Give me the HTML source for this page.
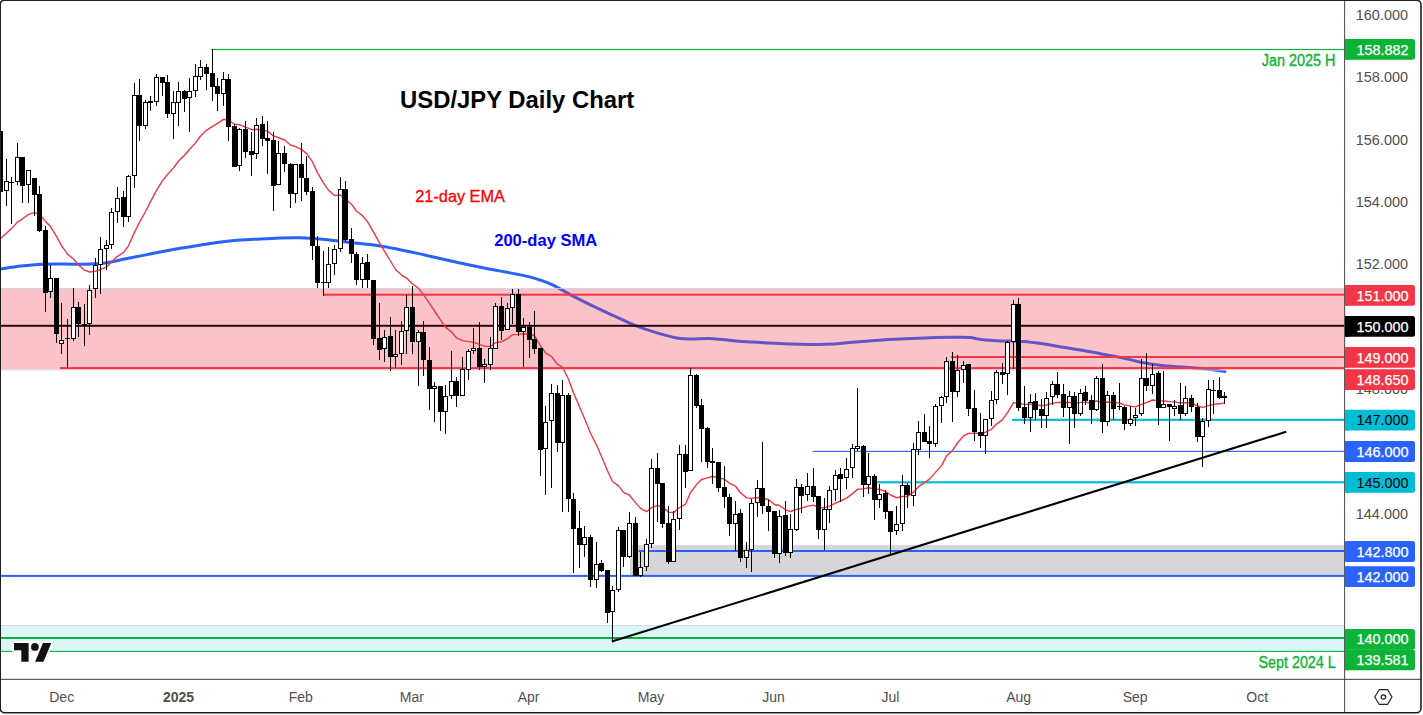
<!DOCTYPE html>
<html><head><meta charset="utf-8"><title>USD/JPY Daily Chart</title>
<style>
html,body{margin:0;padding:0;background:#fff;}
body{width:1423px;height:715px;overflow:hidden;position:relative;font-family:"Liberation Sans",sans-serif;}
svg{position:absolute;left:0;top:0;display:block;}
text{font-family:"Liberation Sans",sans-serif;}
.ax{font-size:14px;fill:#4f4f4f;}
.lb{font-size:14.3px;}
</style></head><body>
<svg width="1423" height="715" viewBox="0 0 1423 715">
<rect x="0" y="0" width="1423" height="715" fill="#fff"/>
<defs><clipPath id="plot"><rect x="1" y="1" width="1343.5" height="678"/></clipPath><mask id="cm" maskUnits="userSpaceOnUse" x="0" y="0" width="1423" height="715"><rect x="0" y="0" width="1423" height="715" fill="#fff"/><use href="#candles"/></mask></defs>
<g clip-path="url(#plot)">
<path d="M0.0,269.0C3.5,268.5 14.0,266.8 21.0,266.0C28.0,265.2 35.0,264.5 42.0,264.2C49.0,263.9 56.0,264.0 63.0,264.0C70.0,264.0 77.0,264.5 84.0,264.3C91.0,264.1 98.0,263.9 105.0,263.0C112.0,262.1 119.0,260.2 126.0,258.8C133.0,257.4 140.0,256.0 147.0,254.6C154.0,253.2 159.2,252.0 168.0,250.4C176.8,248.8 189.7,246.8 200.0,245.2C210.3,243.6 220.0,242.0 230.0,241.0C240.0,240.0 251.7,239.5 260.0,239.0C268.3,238.5 273.3,238.2 280.0,238.0C286.7,237.8 293.3,237.6 300.0,237.8C306.7,238.0 313.3,238.4 320.0,239.0C326.7,239.6 333.3,240.6 340.0,241.3C346.7,242.1 353.3,242.7 360.0,243.5C366.7,244.3 373.3,245.0 380.0,246.0C386.7,247.0 393.3,248.4 400.0,249.7C406.7,251.0 413.3,252.4 420.0,253.9C426.7,255.4 433.3,257.0 440.0,258.5C446.7,260.0 452.2,261.3 460.0,263.0C467.8,264.7 476.0,266.4 486.5,268.5C497.0,270.6 512.6,273.0 523.0,275.4C533.4,277.8 540.8,279.9 548.7,283.1C556.6,286.3 562.7,290.7 570.6,294.8C578.5,298.9 588.9,304.1 596.2,307.6C603.5,311.1 607.7,312.9 614.4,316.0C621.1,319.1 629.7,323.2 636.4,325.9C643.1,328.6 647.9,330.1 654.6,332.1C661.3,334.1 670.5,336.8 676.6,337.9C682.7,339.0 685.1,338.9 691.2,339.0C697.3,339.1 704.5,338.3 713.0,338.7C721.5,339.1 731.3,340.8 742.3,341.6C753.3,342.4 766.8,342.9 779.0,343.4C791.2,343.9 806.3,344.4 815.4,344.5C824.5,344.6 827.6,344.5 833.7,344.1C839.8,343.7 842.9,343.1 852.0,342.3C861.1,341.5 876.3,340.1 888.5,339.4C900.7,338.7 914.0,338.2 925.0,337.9C936.0,337.5 946.8,337.4 954.3,337.3C961.8,337.2 965.5,337.2 970.0,337.6C974.5,338.0 975.7,338.8 981.0,339.4C986.3,339.9 995.0,340.5 1002.0,340.9C1009.0,341.2 1016.0,341.0 1023.0,341.5C1030.0,342.0 1037.0,343.0 1044.0,344.0C1051.0,345.0 1058.0,346.5 1065.0,347.6C1072.0,348.8 1079.0,349.7 1086.0,350.9C1093.0,352.1 1100.0,353.5 1107.0,354.9C1114.0,356.3 1122.3,357.9 1128.0,359.1C1133.7,360.3 1135.3,361.2 1141.0,362.3C1146.7,363.4 1155.0,364.8 1162.0,365.6C1169.0,366.4 1176.0,366.6 1183.0,367.1C1190.0,367.6 1197.0,368.1 1204.0,368.8C1211.0,369.6 1221.5,371.1 1225.0,371.6" fill="none" stroke="#2962ff" stroke-width="3" stroke-linecap="round" stroke-linejoin="round"/>
<rect x="0" y="288.4" width="1345" height="81.4" fill="#f23645" fill-opacity="0.30"/>
<rect x="0" y="288" width="1345" height="1" fill="#c9d2ee" fill-opacity="0.8"/>
<rect x="0" y="369.6" width="1345" height="1" fill="#d9ddf0" fill-opacity="0.8"/>
<rect x="630" y="545.4" width="715" height="30.6" fill="#787878" fill-opacity="0.30"/>
<rect x="630" y="545" width="715" height="1" fill="#cfd6ee" fill-opacity="0.8"/>
<rect x="0" y="625.3" width="1345" height="26.1" fill="#22c1d6" fill-opacity="0.16"/>
<rect x="0" y="625" width="1345" height="1" fill="#d5d3e8" fill-opacity="0.9"/>
<rect x="211.5" y="48.90" width="1133.5" height="1.2" fill="#0bb436"/>
<rect x="323" y="293.70" width="1022" height="2" fill="#f23645"/>
<rect x="0" y="324.80" width="1345" height="2" fill="#2a0508"/>
<rect x="951" y="356.00" width="394" height="2" fill="#f23645"/>
<rect x="60" y="367.10" width="1285" height="2" fill="#f23645"/>
<rect x="1012" y="418.70" width="333" height="2.2" fill="#00bcd4"/>
<rect x="812.7" y="450.85" width="532.3" height="1.1" fill="#2962ff"/>
<rect x="877" y="481.20" width="468" height="2.2" fill="#00bcd4"/>
<rect x="638.6" y="550.00" width="706.4" height="2" fill="#2962ff"/>
<rect x="0" y="574.90" width="1345" height="2" fill="#2962ff"/>
<rect x="0" y="637.00" width="1345" height="2" fill="#0bb436"/>
<rect x="0" y="650.85" width="1345" height="1.1" fill="#0bb436"/>
<line x1="611.8" y1="641.6" x2="1286.2" y2="431.75" stroke="#000" stroke-width="2.1" stroke-linecap="butt"/>
<g id="candles">
<rect x="0" y="131.0" width="1" height="61.0" fill="#000"/>
<rect x="-2" y="131.0" width="5" height="61.0" fill="#000"/>
<rect x="6" y="159.0" width="1" height="47.0" fill="#000"/>
<rect x="4" y="181.0" width="5" height="10.0" fill="#000"/>
<rect x="5" y="182.0" width="3" height="8.0" fill="#fff"/>
<rect x="11" y="177.0" width="1" height="47.0" fill="#000"/>
<rect x="9" y="182" width="5" height="1" fill="#000"/>
<rect x="17" y="143.0" width="1" height="42.0" fill="#000"/>
<rect x="15" y="157.0" width="5" height="25.0" fill="#000"/>
<rect x="16" y="158.0" width="3" height="23.0" fill="#fff"/>
<rect x="22" y="157.0" width="1" height="46.0" fill="#000"/>
<rect x="20" y="157.0" width="5" height="29.0" fill="#000"/>
<rect x="28" y="170.0" width="1" height="33.0" fill="#000"/>
<rect x="26" y="170.0" width="5" height="15.0" fill="#000"/>
<rect x="27" y="171.0" width="3" height="13.0" fill="#fff"/>
<rect x="34" y="178.0" width="1" height="38.0" fill="#000"/>
<rect x="32" y="178.0" width="5" height="17.0" fill="#000"/>
<rect x="39" y="186.0" width="1" height="46.0" fill="#000"/>
<rect x="37" y="194.0" width="5" height="37.0" fill="#000"/>
<rect x="45" y="226.0" width="1" height="86.0" fill="#000"/>
<rect x="43" y="230.0" width="5" height="63.0" fill="#000"/>
<rect x="50" y="265.0" width="1" height="33.0" fill="#000"/>
<rect x="48" y="278.0" width="5" height="14.0" fill="#000"/>
<rect x="49" y="279.0" width="3" height="12.0" fill="#fff"/>
<rect x="56" y="278.0" width="1" height="65.0" fill="#000"/>
<rect x="54" y="278.0" width="5" height="56.0" fill="#000"/>
<rect x="61" y="303.0" width="1" height="51.0" fill="#000"/>
<rect x="59" y="340.0" width="5" height="4.0" fill="#000"/>
<rect x="60" y="341.0" width="3" height="2.0" fill="#fff"/>
<rect x="67" y="319.0" width="1" height="49.0" fill="#000"/>
<rect x="65" y="338" width="5" height="1" fill="#000"/>
<rect x="73" y="288.0" width="1" height="53.0" fill="#000"/>
<rect x="71" y="307.0" width="5" height="32.0" fill="#000"/>
<rect x="72" y="308.0" width="3" height="30.0" fill="#fff"/>
<rect x="78" y="302.0" width="1" height="35.0" fill="#000"/>
<rect x="76" y="307.0" width="5" height="17.0" fill="#000"/>
<rect x="84" y="304.0" width="1" height="42.0" fill="#000"/>
<rect x="82" y="324" width="5" height="1" fill="#000"/>
<rect x="89" y="285.0" width="1" height="50.0" fill="#000"/>
<rect x="87" y="290.0" width="5" height="34.0" fill="#000"/>
<rect x="88" y="291.0" width="3" height="32.0" fill="#fff"/>
<rect x="95" y="258.0" width="1" height="40.0" fill="#000"/>
<rect x="93" y="265.0" width="5" height="24.0" fill="#000"/>
<rect x="94" y="266.0" width="3" height="22.0" fill="#fff"/>
<rect x="100" y="237.0" width="1" height="57.0" fill="#000"/>
<rect x="98" y="249.0" width="5" height="16.0" fill="#000"/>
<rect x="99" y="250.0" width="3" height="14.0" fill="#fff"/>
<rect x="106" y="240.0" width="1" height="30.0" fill="#000"/>
<rect x="104" y="245.0" width="5" height="4.0" fill="#000"/>
<rect x="105" y="246.0" width="3" height="2.0" fill="#fff"/>
<rect x="111" y="208.0" width="1" height="41.0" fill="#000"/>
<rect x="109" y="212.0" width="5" height="33.0" fill="#000"/>
<rect x="110" y="213.0" width="3" height="31.0" fill="#fff"/>
<rect x="117" y="187.0" width="1" height="36.0" fill="#000"/>
<rect x="115" y="198.0" width="5" height="14.0" fill="#000"/>
<rect x="116" y="199.0" width="3" height="12.0" fill="#fff"/>
<rect x="123" y="191.0" width="1" height="36.0" fill="#000"/>
<rect x="121" y="197.0" width="5" height="20.0" fill="#000"/>
<rect x="128" y="175.0" width="1" height="47.0" fill="#000"/>
<rect x="126" y="176.0" width="5" height="41.0" fill="#000"/>
<rect x="127" y="177.0" width="3" height="39.0" fill="#fff"/>
<rect x="134" y="83.0" width="1" height="105.0" fill="#000"/>
<rect x="132" y="95.0" width="5" height="81.0" fill="#000"/>
<rect x="133" y="96.0" width="3" height="79.0" fill="#fff"/>
<rect x="139" y="79.0" width="1" height="62.0" fill="#000"/>
<rect x="137" y="95.0" width="5" height="31.0" fill="#000"/>
<rect x="145" y="100.0" width="1" height="29.0" fill="#000"/>
<rect x="143" y="102.0" width="5" height="24.0" fill="#000"/>
<rect x="144" y="103.0" width="3" height="22.0" fill="#fff"/>
<rect x="150" y="96.0" width="1" height="15.0" fill="#000"/>
<rect x="148" y="101.0" width="5" height="2.0" fill="#000"/>
<rect x="156" y="74.0" width="1" height="32.0" fill="#000"/>
<rect x="154" y="77.0" width="5" height="25.0" fill="#000"/>
<rect x="155" y="78.0" width="3" height="23.0" fill="#fff"/>
<rect x="162" y="77.0" width="1" height="19.0" fill="#000"/>
<rect x="160" y="77.0" width="5" height="6.0" fill="#000"/>
<rect x="167" y="75.0" width="1" height="43.0" fill="#000"/>
<rect x="165" y="82.0" width="5" height="32.0" fill="#000"/>
<rect x="173" y="91.0" width="1" height="48.0" fill="#000"/>
<rect x="171" y="102.0" width="5" height="12.0" fill="#000"/>
<rect x="172" y="103.0" width="3" height="10.0" fill="#fff"/>
<rect x="178" y="82.0" width="1" height="44.0" fill="#000"/>
<rect x="176" y="91.0" width="5" height="12.0" fill="#000"/>
<rect x="177" y="92.0" width="3" height="10.0" fill="#fff"/>
<rect x="184" y="90.0" width="1" height="22.0" fill="#000"/>
<rect x="182" y="91.0" width="5" height="8.0" fill="#000"/>
<rect x="189" y="78.0" width="1" height="54.0" fill="#000"/>
<rect x="187" y="91.0" width="5" height="7.0" fill="#000"/>
<rect x="188" y="92.0" width="3" height="5.0" fill="#fff"/>
<rect x="195" y="64.0" width="1" height="33.0" fill="#000"/>
<rect x="193" y="76.0" width="5" height="15.0" fill="#000"/>
<rect x="194" y="77.0" width="3" height="13.0" fill="#fff"/>
<rect x="200" y="60.0" width="1" height="20.0" fill="#000"/>
<rect x="198" y="67.0" width="5" height="10.0" fill="#000"/>
<rect x="199" y="68.0" width="3" height="8.0" fill="#fff"/>
<rect x="206" y="64.0" width="1" height="26.0" fill="#000"/>
<rect x="204" y="67.0" width="5" height="7.0" fill="#000"/>
<rect x="212" y="49.0" width="1" height="52.0" fill="#000"/>
<rect x="210" y="73.0" width="5" height="14.0" fill="#000"/>
<rect x="217" y="78.0" width="1" height="33.0" fill="#000"/>
<rect x="215" y="86.0" width="5" height="8.0" fill="#000"/>
<rect x="223" y="72.0" width="1" height="34.0" fill="#000"/>
<rect x="221" y="79.0" width="5" height="15.0" fill="#000"/>
<rect x="222" y="80.0" width="3" height="13.0" fill="#fff"/>
<rect x="228" y="74.0" width="1" height="67.0" fill="#000"/>
<rect x="226" y="79.0" width="5" height="48.0" fill="#000"/>
<rect x="234" y="124.0" width="1" height="43.0" fill="#000"/>
<rect x="232" y="126.0" width="5" height="41.0" fill="#000"/>
<rect x="239" y="128.0" width="1" height="43.0" fill="#000"/>
<rect x="237" y="129.0" width="5" height="37.0" fill="#000"/>
<rect x="238" y="130.0" width="3" height="35.0" fill="#fff"/>
<rect x="245" y="121.0" width="1" height="37.0" fill="#000"/>
<rect x="243" y="129.0" width="5" height="23.0" fill="#000"/>
<rect x="251" y="132.0" width="1" height="44.0" fill="#000"/>
<rect x="249" y="151.0" width="5" height="4.0" fill="#000"/>
<rect x="256" y="118.0" width="1" height="41.0" fill="#000"/>
<rect x="254" y="125.0" width="5" height="29.0" fill="#000"/>
<rect x="255" y="126.0" width="3" height="27.0" fill="#fff"/>
<rect x="262" y="116.0" width="1" height="30.0" fill="#000"/>
<rect x="260" y="124.0" width="5" height="15.0" fill="#000"/>
<rect x="267" y="121.0" width="1" height="53.0" fill="#000"/>
<rect x="265" y="138.0" width="5" height="3.0" fill="#000"/>
<rect x="273" y="132.0" width="1" height="79.0" fill="#000"/>
<rect x="271" y="140.0" width="5" height="46.0" fill="#000"/>
<rect x="278" y="141.0" width="1" height="44.0" fill="#000"/>
<rect x="276" y="153.0" width="5" height="32.0" fill="#000"/>
<rect x="277" y="154.0" width="3" height="30.0" fill="#fff"/>
<rect x="284" y="146.0" width="1" height="26.0" fill="#000"/>
<rect x="282" y="153.0" width="5" height="11.0" fill="#000"/>
<rect x="290" y="163.0" width="1" height="45.0" fill="#000"/>
<rect x="288" y="164.0" width="5" height="30.0" fill="#000"/>
<rect x="295" y="164.0" width="1" height="39.0" fill="#000"/>
<rect x="293" y="164.0" width="5" height="30.0" fill="#000"/>
<rect x="294" y="165.0" width="3" height="28.0" fill="#fff"/>
<rect x="301" y="143.0" width="1" height="58.0" fill="#000"/>
<rect x="299" y="164.0" width="5" height="14.0" fill="#000"/>
<rect x="306" y="156.0" width="1" height="39.0" fill="#000"/>
<rect x="304" y="178.0" width="5" height="14.0" fill="#000"/>
<rect x="312" y="187.0" width="1" height="73.0" fill="#000"/>
<rect x="310" y="191.0" width="5" height="55.0" fill="#000"/>
<rect x="317" y="236.0" width="1" height="52.0" fill="#000"/>
<rect x="315" y="246.0" width="5" height="37.0" fill="#000"/>
<rect x="323" y="251.0" width="1" height="45.0" fill="#000"/>
<rect x="321" y="282" width="5" height="1" fill="#000"/>
<rect x="328" y="247.0" width="1" height="41.0" fill="#000"/>
<rect x="326" y="264.0" width="5" height="19.0" fill="#000"/>
<rect x="327" y="265.0" width="3" height="17.0" fill="#fff"/>
<rect x="334" y="245.0" width="1" height="30.0" fill="#000"/>
<rect x="332" y="249.0" width="5" height="15.0" fill="#000"/>
<rect x="333" y="250.0" width="3" height="13.0" fill="#fff"/>
<rect x="340" y="177.0" width="1" height="75.0" fill="#000"/>
<rect x="338" y="189.0" width="5" height="60.0" fill="#000"/>
<rect x="339" y="190.0" width="3" height="58.0" fill="#fff"/>
<rect x="345" y="181.0" width="1" height="61.0" fill="#000"/>
<rect x="343" y="189.0" width="5" height="51.0" fill="#000"/>
<rect x="351" y="228.0" width="1" height="35.0" fill="#000"/>
<rect x="349" y="239.0" width="5" height="15.0" fill="#000"/>
<rect x="356" y="252.0" width="1" height="33.0" fill="#000"/>
<rect x="354" y="254.0" width="5" height="26.0" fill="#000"/>
<rect x="362" y="257.0" width="1" height="31.0" fill="#000"/>
<rect x="360" y="263.0" width="5" height="17.0" fill="#000"/>
<rect x="361" y="264.0" width="3" height="15.0" fill="#fff"/>
<rect x="367" y="254.0" width="1" height="34.0" fill="#000"/>
<rect x="365" y="262.0" width="5" height="18.0" fill="#000"/>
<rect x="373" y="280.0" width="1" height="65.0" fill="#000"/>
<rect x="371" y="280.0" width="5" height="59.0" fill="#000"/>
<rect x="379" y="303.0" width="1" height="57.0" fill="#000"/>
<rect x="377" y="338.0" width="5" height="12.0" fill="#000"/>
<rect x="384" y="330.0" width="1" height="32.0" fill="#000"/>
<rect x="382" y="337.0" width="5" height="12.0" fill="#000"/>
<rect x="383" y="338.0" width="3" height="10.0" fill="#fff"/>
<rect x="390" y="317.0" width="1" height="54.0" fill="#000"/>
<rect x="388" y="336.0" width="5" height="21.0" fill="#000"/>
<rect x="395" y="330.0" width="1" height="38.0" fill="#000"/>
<rect x="393" y="354.0" width="5" height="3.0" fill="#000"/>
<rect x="394" y="355.0" width="3" height="1.0" fill="#fff"/>
<rect x="401" y="321.0" width="1" height="44.0" fill="#000"/>
<rect x="399" y="331.0" width="5" height="23.0" fill="#000"/>
<rect x="400" y="332.0" width="3" height="21.0" fill="#fff"/>
<rect x="406" y="295.0" width="1" height="59.0" fill="#000"/>
<rect x="404" y="307.0" width="5" height="24.0" fill="#000"/>
<rect x="405" y="308.0" width="3" height="22.0" fill="#fff"/>
<rect x="412" y="286.0" width="1" height="68.0" fill="#000"/>
<rect x="410" y="307.0" width="5" height="35.0" fill="#000"/>
<rect x="418" y="330.0" width="1" height="56.0" fill="#000"/>
<rect x="416" y="332.0" width="5" height="10.0" fill="#000"/>
<rect x="417" y="333.0" width="3" height="8.0" fill="#fff"/>
<rect x="423" y="321.0" width="1" height="55.0" fill="#000"/>
<rect x="421" y="332.0" width="5" height="28.0" fill="#000"/>
<rect x="429" y="347.0" width="1" height="63.0" fill="#000"/>
<rect x="427" y="360.0" width="5" height="29.0" fill="#000"/>
<rect x="434" y="382.0" width="1" height="40.0" fill="#000"/>
<rect x="432" y="386.0" width="5" height="3.0" fill="#000"/>
<rect x="433" y="387.0" width="3" height="1.0" fill="#fff"/>
<rect x="440" y="386.0" width="1" height="45.0" fill="#000"/>
<rect x="438" y="386.0" width="5" height="26.0" fill="#000"/>
<rect x="445" y="385.0" width="1" height="49.0" fill="#000"/>
<rect x="443" y="396.0" width="5" height="16.0" fill="#000"/>
<rect x="444" y="397.0" width="3" height="14.0" fill="#fff"/>
<rect x="451" y="351.0" width="1" height="48.0" fill="#000"/>
<rect x="449" y="381.0" width="5" height="15.0" fill="#000"/>
<rect x="450" y="382.0" width="3" height="13.0" fill="#fff"/>
<rect x="456" y="377.0" width="1" height="30.0" fill="#000"/>
<rect x="454" y="381.0" width="5" height="15.0" fill="#000"/>
<rect x="462" y="357.0" width="1" height="39.0" fill="#000"/>
<rect x="460" y="369.0" width="5" height="27.0" fill="#000"/>
<rect x="461" y="370.0" width="3" height="25.0" fill="#fff"/>
<rect x="468" y="349.0" width="1" height="31.0" fill="#000"/>
<rect x="466" y="351.0" width="5" height="19.0" fill="#000"/>
<rect x="467" y="352.0" width="3" height="17.0" fill="#fff"/>
<rect x="473" y="328.0" width="1" height="26.0" fill="#000"/>
<rect x="471" y="348.0" width="5" height="3.0" fill="#000"/>
<rect x="472" y="349.0" width="3" height="1.0" fill="#fff"/>
<rect x="479" y="322.0" width="1" height="48.0" fill="#000"/>
<rect x="477" y="348.0" width="5" height="19.0" fill="#000"/>
<rect x="484" y="359.0" width="1" height="24.0" fill="#000"/>
<rect x="482" y="364.0" width="5" height="3.0" fill="#000"/>
<rect x="483" y="365.0" width="3" height="1.0" fill="#fff"/>
<rect x="490" y="337.0" width="1" height="33.0" fill="#000"/>
<rect x="488" y="348.0" width="5" height="17.0" fill="#000"/>
<rect x="489" y="349.0" width="3" height="15.0" fill="#fff"/>
<rect x="495" y="303.0" width="1" height="46.0" fill="#000"/>
<rect x="493" y="306.0" width="5" height="43.0" fill="#000"/>
<rect x="494" y="307.0" width="3" height="41.0" fill="#fff"/>
<rect x="501" y="297.0" width="1" height="43.0" fill="#000"/>
<rect x="499" y="306.0" width="5" height="25.0" fill="#000"/>
<rect x="507" y="303.0" width="1" height="27.0" fill="#000"/>
<rect x="505" y="308.0" width="5" height="22.0" fill="#000"/>
<rect x="506" y="309.0" width="3" height="20.0" fill="#fff"/>
<rect x="512" y="289.0" width="1" height="35.0" fill="#000"/>
<rect x="510" y="294.0" width="5" height="14.0" fill="#000"/>
<rect x="511" y="295.0" width="3" height="12.0" fill="#fff"/>
<rect x="518" y="289.0" width="1" height="47.0" fill="#000"/>
<rect x="516" y="294.0" width="5" height="38.0" fill="#000"/>
<rect x="523" y="318.0" width="1" height="49.0" fill="#000"/>
<rect x="521" y="327.0" width="5" height="5.0" fill="#000"/>
<rect x="522" y="328.0" width="3" height="3.0" fill="#fff"/>
<rect x="529" y="322.0" width="1" height="36.0" fill="#000"/>
<rect x="527" y="327.0" width="5" height="13.0" fill="#000"/>
<rect x="534" y="311.0" width="1" height="43.0" fill="#000"/>
<rect x="532" y="339.0" width="5" height="10.0" fill="#000"/>
<rect x="540" y="348.0" width="1" height="128.0" fill="#000"/>
<rect x="538" y="348.0" width="5" height="102.0" fill="#000"/>
<rect x="545" y="406.0" width="1" height="89.0" fill="#000"/>
<rect x="543" y="422.0" width="5" height="27.0" fill="#000"/>
<rect x="544" y="423.0" width="3" height="25.0" fill="#fff"/>
<rect x="551" y="384.0" width="1" height="104.0" fill="#000"/>
<rect x="549" y="393.0" width="5" height="28.0" fill="#000"/>
<rect x="550" y="394.0" width="3" height="26.0" fill="#fff"/>
<rect x="557" y="385.0" width="1" height="67.0" fill="#000"/>
<rect x="555" y="393.0" width="5" height="50.0" fill="#000"/>
<rect x="562" y="380.0" width="1" height="132.0" fill="#000"/>
<rect x="560" y="395.0" width="5" height="48.0" fill="#000"/>
<rect x="561" y="396.0" width="3" height="46.0" fill="#fff"/>
<rect x="568" y="393.0" width="1" height="119.0" fill="#000"/>
<rect x="566" y="395.0" width="5" height="104.0" fill="#000"/>
<rect x="573" y="493.0" width="1" height="80.0" fill="#000"/>
<rect x="571" y="499.0" width="5" height="30.0" fill="#000"/>
<rect x="579" y="511.0" width="1" height="57.0" fill="#000"/>
<rect x="577" y="528.0" width="5" height="17.0" fill="#000"/>
<rect x="584" y="526.0" width="1" height="31.0" fill="#000"/>
<rect x="582" y="537.0" width="5" height="8.0" fill="#000"/>
<rect x="583" y="538.0" width="3" height="6.0" fill="#fff"/>
<rect x="590" y="535.0" width="1" height="52.0" fill="#000"/>
<rect x="588" y="537.0" width="5" height="43.0" fill="#000"/>
<rect x="596" y="542.0" width="1" height="46.0" fill="#000"/>
<rect x="594" y="564.0" width="5" height="16.0" fill="#000"/>
<rect x="595" y="565.0" width="3" height="14.0" fill="#fff"/>
<rect x="601" y="560.0" width="1" height="12.0" fill="#000"/>
<rect x="599" y="563.0" width="5" height="8.0" fill="#000"/>
<rect x="607" y="570.0" width="1" height="53.0" fill="#000"/>
<rect x="605" y="570.0" width="5" height="43.0" fill="#000"/>
<rect x="612" y="586.0" width="1" height="56.0" fill="#000"/>
<rect x="610" y="590.0" width="5" height="22.0" fill="#000"/>
<rect x="611" y="591.0" width="3" height="20.0" fill="#fff"/>
<rect x="618" y="527.0" width="1" height="65.0" fill="#000"/>
<rect x="616" y="530.0" width="5" height="60.0" fill="#000"/>
<rect x="617" y="531.0" width="3" height="58.0" fill="#fff"/>
<rect x="623" y="530.0" width="1" height="37.0" fill="#000"/>
<rect x="621" y="530.0" width="5" height="27.0" fill="#000"/>
<rect x="629" y="512.0" width="1" height="46.0" fill="#000"/>
<rect x="627" y="523.0" width="5" height="34.0" fill="#000"/>
<rect x="628" y="524.0" width="3" height="32.0" fill="#fff"/>
<rect x="635" y="517.0" width="1" height="59.0" fill="#000"/>
<rect x="633" y="523.0" width="5" height="53.0" fill="#000"/>
<rect x="640" y="552.0" width="1" height="25.0" fill="#000"/>
<rect x="638" y="567.0" width="5" height="9.0" fill="#000"/>
<rect x="639" y="568.0" width="3" height="7.0" fill="#fff"/>
<rect x="646" y="539.0" width="1" height="32.0" fill="#000"/>
<rect x="644" y="544.0" width="5" height="23.0" fill="#000"/>
<rect x="645" y="545.0" width="3" height="21.0" fill="#fff"/>
<rect x="651" y="459.0" width="1" height="89.0" fill="#000"/>
<rect x="649" y="468.0" width="5" height="76.0" fill="#000"/>
<rect x="650" y="469.0" width="3" height="74.0" fill="#fff"/>
<rect x="657" y="453.0" width="1" height="69.0" fill="#000"/>
<rect x="655" y="468.0" width="5" height="16.0" fill="#000"/>
<rect x="662" y="483.0" width="1" height="45.0" fill="#000"/>
<rect x="660" y="483.0" width="5" height="41.0" fill="#000"/>
<rect x="668" y="506.0" width="1" height="58.0" fill="#000"/>
<rect x="666" y="523.0" width="5" height="39.0" fill="#000"/>
<rect x="673" y="511.0" width="1" height="51.0" fill="#000"/>
<rect x="671" y="519.0" width="5" height="43.0" fill="#000"/>
<rect x="672" y="520.0" width="3" height="41.0" fill="#fff"/>
<rect x="679" y="445.0" width="1" height="85.0" fill="#000"/>
<rect x="677" y="454.0" width="5" height="65.0" fill="#000"/>
<rect x="678" y="455.0" width="3" height="63.0" fill="#fff"/>
<rect x="685" y="445.0" width="1" height="43.0" fill="#000"/>
<rect x="683" y="454.0" width="5" height="18.0" fill="#000"/>
<rect x="690" y="368.0" width="1" height="103.0" fill="#000"/>
<rect x="688" y="375.0" width="5" height="96.0" fill="#000"/>
<rect x="689" y="376.0" width="3" height="94.0" fill="#fff"/>
<rect x="696" y="374.0" width="1" height="34.0" fill="#000"/>
<rect x="694" y="375.0" width="5" height="31.0" fill="#000"/>
<rect x="701" y="399.0" width="1" height="63.0" fill="#000"/>
<rect x="699" y="405.0" width="5" height="24.0" fill="#000"/>
<rect x="707" y="427.0" width="1" height="41.0" fill="#000"/>
<rect x="705" y="428.0" width="5" height="34.0" fill="#000"/>
<rect x="712" y="448.0" width="1" height="36.0" fill="#000"/>
<rect x="710" y="461.0" width="5" height="2.0" fill="#000"/>
<rect x="718" y="462.0" width="1" height="30.0" fill="#000"/>
<rect x="716" y="462.0" width="5" height="26.0" fill="#000"/>
<rect x="724" y="466.0" width="1" height="42.0" fill="#000"/>
<rect x="722" y="487.0" width="5" height="10.0" fill="#000"/>
<rect x="729" y="494.0" width="1" height="42.0" fill="#000"/>
<rect x="727" y="497.0" width="5" height="27.0" fill="#000"/>
<rect x="735" y="501.0" width="1" height="50.0" fill="#000"/>
<rect x="733" y="514.0" width="5" height="10.0" fill="#000"/>
<rect x="734" y="515.0" width="3" height="8.0" fill="#fff"/>
<rect x="740" y="509.0" width="1" height="53.0" fill="#000"/>
<rect x="738" y="513.0" width="5" height="45.0" fill="#000"/>
<rect x="746" y="542.0" width="1" height="26.0" fill="#000"/>
<rect x="744" y="550.0" width="5" height="8.0" fill="#000"/>
<rect x="745" y="551.0" width="3" height="6.0" fill="#fff"/>
<rect x="751" y="499.0" width="1" height="73.0" fill="#000"/>
<rect x="749" y="503.0" width="5" height="47.0" fill="#000"/>
<rect x="750" y="504.0" width="3" height="45.0" fill="#fff"/>
<rect x="757" y="480.0" width="1" height="37.0" fill="#000"/>
<rect x="755" y="488.0" width="5" height="15.0" fill="#000"/>
<rect x="756" y="489.0" width="3" height="13.0" fill="#fff"/>
<rect x="762" y="442.0" width="1" height="72.0" fill="#000"/>
<rect x="760" y="488.0" width="5" height="18.0" fill="#000"/>
<rect x="768" y="500.0" width="1" height="31.0" fill="#000"/>
<rect x="766" y="506.0" width="5" height="6.0" fill="#000"/>
<rect x="774" y="511.0" width="1" height="47.0" fill="#000"/>
<rect x="772" y="511.0" width="5" height="43.0" fill="#000"/>
<rect x="779" y="510.0" width="1" height="53.0" fill="#000"/>
<rect x="777" y="516.0" width="5" height="38.0" fill="#000"/>
<rect x="778" y="517.0" width="3" height="36.0" fill="#fff"/>
<rect x="785" y="501.0" width="1" height="55.0" fill="#000"/>
<rect x="783" y="515.0" width="5" height="38.0" fill="#000"/>
<rect x="790" y="514.0" width="1" height="44.0" fill="#000"/>
<rect x="788" y="529.0" width="5" height="24.0" fill="#000"/>
<rect x="789" y="530.0" width="3" height="22.0" fill="#fff"/>
<rect x="796" y="479.0" width="1" height="52.0" fill="#000"/>
<rect x="794" y="487.0" width="5" height="43.0" fill="#000"/>
<rect x="795" y="488.0" width="3" height="41.0" fill="#fff"/>
<rect x="801" y="484.0" width="1" height="29.0" fill="#000"/>
<rect x="799" y="487.0" width="5" height="9.0" fill="#000"/>
<rect x="807" y="473.0" width="1" height="28.0" fill="#000"/>
<rect x="805" y="486.0" width="5" height="9.0" fill="#000"/>
<rect x="806" y="487.0" width="3" height="7.0" fill="#fff"/>
<rect x="813" y="468.0" width="1" height="34.0" fill="#000"/>
<rect x="811" y="486.0" width="5" height="11.0" fill="#000"/>
<rect x="818" y="496.0" width="1" height="43.0" fill="#000"/>
<rect x="816" y="496.0" width="5" height="34.0" fill="#000"/>
<rect x="824" y="498.0" width="1" height="52.0" fill="#000"/>
<rect x="822" y="509.0" width="5" height="21.0" fill="#000"/>
<rect x="823" y="510.0" width="3" height="19.0" fill="#fff"/>
<rect x="829" y="486.0" width="1" height="37.0" fill="#000"/>
<rect x="827" y="490.0" width="5" height="20.0" fill="#000"/>
<rect x="828" y="491.0" width="3" height="18.0" fill="#fff"/>
<rect x="835" y="470.0" width="1" height="31.0" fill="#000"/>
<rect x="833" y="475.0" width="5" height="15.0" fill="#000"/>
<rect x="834" y="476.0" width="3" height="13.0" fill="#fff"/>
<rect x="840" y="468.0" width="1" height="34.0" fill="#000"/>
<rect x="838" y="474.0" width="5" height="5.0" fill="#000"/>
<rect x="846" y="458.0" width="1" height="31.0" fill="#000"/>
<rect x="844" y="469.0" width="5" height="9.0" fill="#000"/>
<rect x="845" y="470.0" width="3" height="7.0" fill="#fff"/>
<rect x="852" y="444.0" width="1" height="34.0" fill="#000"/>
<rect x="850" y="448.0" width="5" height="20.0" fill="#000"/>
<rect x="851" y="449.0" width="3" height="18.0" fill="#fff"/>
<rect x="857" y="388.0" width="1" height="63.0" fill="#000"/>
<rect x="855" y="446.0" width="5" height="3.0" fill="#000"/>
<rect x="856" y="447.0" width="3" height="1.0" fill="#fff"/>
<rect x="863" y="445.0" width="1" height="52.0" fill="#000"/>
<rect x="861" y="446.0" width="5" height="39.0" fill="#000"/>
<rect x="868" y="453.0" width="1" height="41.0" fill="#000"/>
<rect x="866" y="476.0" width="5" height="9.0" fill="#000"/>
<rect x="867" y="477.0" width="3" height="7.0" fill="#fff"/>
<rect x="874" y="474.0" width="1" height="46.0" fill="#000"/>
<rect x="872" y="476.0" width="5" height="24.0" fill="#000"/>
<rect x="879" y="484.0" width="1" height="24.0" fill="#000"/>
<rect x="877" y="494.0" width="5" height="6.0" fill="#000"/>
<rect x="878" y="495.0" width="3" height="4.0" fill="#fff"/>
<rect x="885" y="490.0" width="1" height="29.0" fill="#000"/>
<rect x="883" y="493.0" width="5" height="19.0" fill="#000"/>
<rect x="890" y="511.0" width="1" height="43.0" fill="#000"/>
<rect x="888" y="511.0" width="5" height="21.0" fill="#000"/>
<rect x="896" y="506.0" width="1" height="29.0" fill="#000"/>
<rect x="894" y="524.0" width="5" height="7.0" fill="#000"/>
<rect x="895" y="525.0" width="3" height="5.0" fill="#fff"/>
<rect x="902" y="475.0" width="1" height="56.0" fill="#000"/>
<rect x="900" y="485.0" width="5" height="39.0" fill="#000"/>
<rect x="901" y="486.0" width="3" height="37.0" fill="#fff"/>
<rect x="907" y="483.0" width="1" height="25.0" fill="#000"/>
<rect x="905" y="485.0" width="5" height="10.0" fill="#000"/>
<rect x="913" y="443.0" width="1" height="63.0" fill="#000"/>
<rect x="911" y="449.0" width="5" height="47.0" fill="#000"/>
<rect x="912" y="450.0" width="3" height="45.0" fill="#fff"/>
<rect x="918" y="421.0" width="1" height="34.0" fill="#000"/>
<rect x="916" y="432.0" width="5" height="18.0" fill="#000"/>
<rect x="917" y="433.0" width="3" height="16.0" fill="#fff"/>
<rect x="924" y="414.0" width="1" height="28.0" fill="#000"/>
<rect x="922" y="432.0" width="5" height="10.0" fill="#000"/>
<rect x="929" y="426.0" width="1" height="32.0" fill="#000"/>
<rect x="927" y="441.0" width="5" height="3.0" fill="#000"/>
<rect x="935" y="404.0" width="1" height="43.0" fill="#000"/>
<rect x="933" y="406.0" width="5" height="38.0" fill="#000"/>
<rect x="934" y="407.0" width="3" height="36.0" fill="#fff"/>
<rect x="941" y="396.0" width="1" height="27.0" fill="#000"/>
<rect x="939" y="397.0" width="5" height="9.0" fill="#000"/>
<rect x="940" y="398.0" width="3" height="7.0" fill="#fff"/>
<rect x="946" y="357.0" width="1" height="46.0" fill="#000"/>
<rect x="944" y="361.0" width="5" height="36.0" fill="#000"/>
<rect x="945" y="362.0" width="3" height="34.0" fill="#fff"/>
<rect x="952" y="352.0" width="1" height="70.0" fill="#000"/>
<rect x="950" y="361.0" width="5" height="31.0" fill="#000"/>
<rect x="957" y="355.0" width="1" height="42.0" fill="#000"/>
<rect x="955" y="370.0" width="5" height="22.0" fill="#000"/>
<rect x="956" y="371.0" width="3" height="20.0" fill="#fff"/>
<rect x="963" y="361.0" width="1" height="22.0" fill="#000"/>
<rect x="961" y="365.0" width="5" height="5.0" fill="#000"/>
<rect x="962" y="366.0" width="3" height="3.0" fill="#fff"/>
<rect x="968" y="364.0" width="1" height="52.0" fill="#000"/>
<rect x="966" y="364.0" width="5" height="45.0" fill="#000"/>
<rect x="974" y="390.0" width="1" height="51.0" fill="#000"/>
<rect x="972" y="408.0" width="5" height="24.0" fill="#000"/>
<rect x="980" y="413.0" width="1" height="35.0" fill="#000"/>
<rect x="978" y="432.0" width="5" height="4.0" fill="#000"/>
<rect x="985" y="419.0" width="1" height="35.0" fill="#000"/>
<rect x="983" y="419.0" width="5" height="17.0" fill="#000"/>
<rect x="984" y="420.0" width="3" height="15.0" fill="#fff"/>
<rect x="991" y="391.0" width="1" height="35.0" fill="#000"/>
<rect x="989" y="400.0" width="5" height="19.0" fill="#000"/>
<rect x="990" y="401.0" width="3" height="17.0" fill="#fff"/>
<rect x="996" y="370.0" width="1" height="34.0" fill="#000"/>
<rect x="994" y="372.0" width="5" height="28.0" fill="#000"/>
<rect x="995" y="373.0" width="3" height="26.0" fill="#fff"/>
<rect x="1002" y="363.0" width="1" height="21.0" fill="#000"/>
<rect x="1000" y="372.0" width="5" height="3.0" fill="#000"/>
<rect x="1007" y="341.0" width="1" height="54.0" fill="#000"/>
<rect x="1005" y="342.0" width="5" height="32.0" fill="#000"/>
<rect x="1006" y="343.0" width="3" height="30.0" fill="#fff"/>
<rect x="1013" y="300.0" width="1" height="69.0" fill="#000"/>
<rect x="1011" y="304.0" width="5" height="38.0" fill="#000"/>
<rect x="1012" y="305.0" width="3" height="36.0" fill="#fff"/>
<rect x="1018" y="298.0" width="1" height="113.0" fill="#000"/>
<rect x="1016" y="304.0" width="5" height="104.0" fill="#000"/>
<rect x="1024" y="386.0" width="1" height="38.0" fill="#000"/>
<rect x="1022" y="407.0" width="5" height="11.0" fill="#000"/>
<rect x="1030" y="394.0" width="1" height="38.0" fill="#000"/>
<rect x="1028" y="402.0" width="5" height="16.0" fill="#000"/>
<rect x="1029" y="403.0" width="3" height="14.0" fill="#fff"/>
<rect x="1035" y="393.0" width="1" height="27.0" fill="#000"/>
<rect x="1033" y="401.0" width="5" height="9.0" fill="#000"/>
<rect x="1041" y="399.0" width="1" height="29.0" fill="#000"/>
<rect x="1039" y="409.0" width="5" height="7.0" fill="#000"/>
<rect x="1046" y="392.0" width="1" height="36.0" fill="#000"/>
<rect x="1044" y="398.0" width="5" height="18.0" fill="#000"/>
<rect x="1045" y="399.0" width="3" height="16.0" fill="#fff"/>
<rect x="1052" y="381.0" width="1" height="24.0" fill="#000"/>
<rect x="1050" y="384.0" width="5" height="13.0" fill="#000"/>
<rect x="1051" y="385.0" width="3" height="11.0" fill="#fff"/>
<rect x="1057" y="372.0" width="1" height="26.0" fill="#000"/>
<rect x="1055" y="384.0" width="5" height="11.0" fill="#000"/>
<rect x="1063" y="384.0" width="1" height="33.0" fill="#000"/>
<rect x="1061" y="394.0" width="5" height="14.0" fill="#000"/>
<rect x="1069" y="391.0" width="1" height="53.0" fill="#000"/>
<rect x="1067" y="396.0" width="5" height="12.0" fill="#000"/>
<rect x="1068" y="397.0" width="3" height="10.0" fill="#fff"/>
<rect x="1074" y="392.0" width="1" height="36.0" fill="#000"/>
<rect x="1072" y="396.0" width="5" height="18.0" fill="#000"/>
<rect x="1080" y="389.0" width="1" height="27.0" fill="#000"/>
<rect x="1078" y="393.0" width="5" height="21.0" fill="#000"/>
<rect x="1079" y="394.0" width="3" height="19.0" fill="#fff"/>
<rect x="1085" y="386.0" width="1" height="19.0" fill="#000"/>
<rect x="1083" y="392.0" width="5" height="9.0" fill="#000"/>
<rect x="1091" y="395.0" width="1" height="29.0" fill="#000"/>
<rect x="1089" y="400.0" width="5" height="10.0" fill="#000"/>
<rect x="1096" y="376.0" width="1" height="35.0" fill="#000"/>
<rect x="1094" y="378.0" width="5" height="32.0" fill="#000"/>
<rect x="1095" y="379.0" width="3" height="30.0" fill="#fff"/>
<rect x="1102" y="364.0" width="1" height="69.0" fill="#000"/>
<rect x="1100" y="378.0" width="5" height="44.0" fill="#000"/>
<rect x="1107" y="391.0" width="1" height="35.0" fill="#000"/>
<rect x="1105" y="395.0" width="5" height="27.0" fill="#000"/>
<rect x="1106" y="396.0" width="3" height="25.0" fill="#fff"/>
<rect x="1113" y="392.0" width="1" height="28.0" fill="#000"/>
<rect x="1111" y="395.0" width="5" height="14.0" fill="#000"/>
<rect x="1119" y="383.0" width="1" height="27.0" fill="#000"/>
<rect x="1117" y="406" width="5" height="1" fill="#000"/>
<rect x="1124" y="406.0" width="1" height="24.0" fill="#000"/>
<rect x="1122" y="407.0" width="5" height="17.0" fill="#000"/>
<rect x="1130" y="406.0" width="1" height="20.0" fill="#000"/>
<rect x="1128" y="419.0" width="5" height="5.0" fill="#000"/>
<rect x="1129" y="420.0" width="3" height="3.0" fill="#fff"/>
<rect x="1135" y="408.0" width="1" height="18.0" fill="#000"/>
<rect x="1133" y="415.0" width="5" height="3.0" fill="#000"/>
<rect x="1134" y="416.0" width="3" height="1.0" fill="#fff"/>
<rect x="1141" y="359.0" width="1" height="57.0" fill="#000"/>
<rect x="1139" y="378.0" width="5" height="36.0" fill="#000"/>
<rect x="1140" y="379.0" width="3" height="34.0" fill="#fff"/>
<rect x="1146" y="353.0" width="1" height="38.0" fill="#000"/>
<rect x="1144" y="378.0" width="5" height="8.0" fill="#000"/>
<rect x="1152" y="364.0" width="1" height="30.0" fill="#000"/>
<rect x="1150" y="374.0" width="5" height="12.0" fill="#000"/>
<rect x="1151" y="375.0" width="3" height="10.0" fill="#fff"/>
<rect x="1158" y="371.0" width="1" height="54.0" fill="#000"/>
<rect x="1156" y="373.0" width="5" height="35.0" fill="#000"/>
<rect x="1163" y="371.0" width="1" height="37.0" fill="#000"/>
<rect x="1161" y="404.0" width="5" height="4.0" fill="#000"/>
<rect x="1162" y="405.0" width="3" height="2.0" fill="#fff"/>
<rect x="1169" y="404.0" width="1" height="37.0" fill="#000"/>
<rect x="1167" y="404.0" width="5" height="3.0" fill="#000"/>
<rect x="1174" y="400.0" width="1" height="16.0" fill="#000"/>
<rect x="1172" y="406.0" width="5" height="3.0" fill="#000"/>
<rect x="1173" y="407.0" width="3" height="1.0" fill="#fff"/>
<rect x="1180" y="383.0" width="1" height="37.0" fill="#000"/>
<rect x="1178" y="405.0" width="5" height="9.0" fill="#000"/>
<rect x="1185" y="386.0" width="1" height="30.0" fill="#000"/>
<rect x="1183" y="398.0" width="5" height="16.0" fill="#000"/>
<rect x="1184" y="399.0" width="3" height="14.0" fill="#fff"/>
<rect x="1191" y="395.0" width="1" height="17.0" fill="#000"/>
<rect x="1189" y="398.0" width="5" height="9.0" fill="#000"/>
<rect x="1197" y="403.0" width="1" height="39.0" fill="#000"/>
<rect x="1195" y="407.0" width="5" height="30.0" fill="#000"/>
<rect x="1202" y="418.0" width="1" height="49.0" fill="#000"/>
<rect x="1200" y="421.0" width="5" height="16.0" fill="#000"/>
<rect x="1201" y="422.0" width="3" height="14.0" fill="#fff"/>
<rect x="1208" y="380.0" width="1" height="47.0" fill="#000"/>
<rect x="1206" y="389.0" width="5" height="32.0" fill="#000"/>
<rect x="1207" y="390.0" width="3" height="30.0" fill="#fff"/>
<rect x="1213" y="380.0" width="1" height="34.0" fill="#000"/>
<rect x="1211" y="390" width="5" height="1" fill="#000"/>
<rect x="1219" y="377.0" width="1" height="22.0" fill="#000"/>
<rect x="1217" y="390.0" width="5" height="8.0" fill="#000"/>
<rect x="1224" y="392.0" width="1" height="12.0" fill="#000"/>
<rect x="1222" y="396.0" width="5" height="2.0" fill="#000"/>
</g>
<path d="M0.5,238.5 L6.5,233.3 L11.5,228.6 L17.5,222.1 L22.5,218.8 L28.5,214.4 L34.5,212.6 L39.5,214.3 L45.5,221.4 L50.5,226.6 L56.5,236.3 L61.5,245.7 L67.5,254.1 L73.5,259.0 L78.5,264.9 L84.5,270.2 L89.5,272.0 L95.5,271.4 L100.5,269.4 L106.5,267.1 L111.5,262.1 L117.5,256.3 L123.5,252.7 L128.5,245.8 L134.5,232.1 L139.5,222.4 L145.5,211.5 L150.5,201.6 L156.5,190.3 L162.5,180.6 L167.5,174.5 L173.5,167.9 L178.5,161.0 L184.5,155.3 L189.5,149.5 L195.5,142.9 L200.5,136.0 L206.5,130.3 L212.5,126.4 L217.5,123.4 L223.5,119.3 L228.5,120.0 L234.5,124.3 L239.5,124.7 L245.5,127.2 L251.5,129.7 L256.5,129.2 L262.5,130.1 L267.5,131.1 L273.5,136.0 L278.5,137.6 L284.5,140.0 L290.5,145.0 L295.5,146.7 L301.5,149.6 L306.5,153.4 L312.5,161.9 L317.5,172.9 L323.5,182.8 L328.5,190.2 L334.5,195.6 L340.5,195.0 L345.5,199.1 L351.5,204.2 L356.5,211.0 L362.5,215.7 L367.5,221.6 L373.5,232.2 L379.5,242.9 L384.5,251.4 L390.5,261.0 L395.5,269.5 L401.5,275.1 L406.5,278.1 L412.5,283.9 L418.5,288.3 L423.5,294.9 L429.5,303.4 L434.5,311.0 L440.5,320.1 L445.5,327.1 L451.5,332.0 L456.5,337.8 L462.5,340.6 L468.5,341.6 L473.5,342.2 L479.5,344.4 L484.5,346.2 L490.5,346.4 L495.5,342.8 L501.5,341.7 L507.5,338.7 L512.5,334.6 L518.5,334.4 L523.5,333.7 L529.5,334.3 L534.5,335.6 L540.5,346.0 L545.5,352.9 L551.5,356.5 L557.5,364.4 L562.5,367.2 L568.5,379.2 L573.5,392.8 L579.5,406.7 L584.5,418.5 L590.5,433.2 L596.5,445.0 L601.5,456.5 L607.5,470.7 L612.5,481.5 L618.5,485.9 L623.5,492.4 L629.5,495.2 L635.5,502.6 L640.5,508.4 L646.5,511.6 L651.5,507.6 L657.5,505.4 L662.5,507.1 L668.5,512.1 L673.5,512.8 L679.5,507.5 L685.5,504.2 L690.5,492.5 L696.5,484.6 L701.5,479.5 L707.5,477.9 L712.5,476.5 L718.5,477.5 L724.5,479.3 L729.5,483.4 L735.5,486.2 L740.5,492.7 L746.5,497.9 L751.5,498.4 L757.5,497.5 L762.5,498.3 L768.5,499.5 L774.5,504.5 L779.5,505.5 L785.5,509.8 L790.5,511.5 L796.5,509.3 L801.5,508.1 L807.5,506.1 L813.5,505.2 L818.5,507.5 L824.5,507.7 L829.5,506.1 L835.5,503.2 L840.5,501.0 L846.5,498.1 L852.5,493.6 L857.5,489.3 L863.5,488.9 L868.5,487.7 L874.5,488.9 L879.5,489.3 L885.5,491.3 L890.5,495.0 L896.5,497.7 L902.5,496.5 L907.5,496.4 L913.5,492.1 L918.5,486.7 L924.5,482.6 L929.5,479.1 L935.5,472.4 L941.5,465.6 L946.5,456.1 L952.5,450.3 L957.5,443.0 L963.5,435.9 L968.5,433.4 L974.5,433.3 L980.5,433.5 L985.5,432.2 L991.5,429.3 L996.5,424.1 L1002.5,419.6 L1007.5,412.6 L1013.5,402.6 L1018.5,403.1 L1024.5,404.4 L1030.5,404.2 L1035.5,404.6 L1041.5,405.7 L1046.5,405.0 L1052.5,403.1 L1057.5,402.4 L1063.5,402.8 L1069.5,402.3 L1074.5,403.4 L1080.5,402.4 L1085.5,402.3 L1091.5,403.0 L1096.5,400.8 L1102.5,402.6 L1107.5,402.0 L1113.5,402.6 L1119.5,403.0 L1124.5,404.9 L1130.5,406.1 L1135.5,406.9 L1141.5,404.3 L1146.5,402.6 L1152.5,400.0 L1158.5,400.7 L1163.5,401.0 L1169.5,401.6 L1174.5,401.9 L1180.5,403.0 L1185.5,402.6 L1191.5,403.0 L1197.5,406.0 L1202.5,407.4 L1208.5,405.7 L1213.5,404.3 L1219.5,403.7 L1224.5,403.1" fill="none" stroke="#f23645" stroke-width="1.4" stroke-linejoin="round" mask="url(#cm)"/>
</g>
<text x="400" y="107.7" font-size="24" font-weight="bold" fill="#000" textLength="234.3" lengthAdjust="spacingAndGlyphs">USD/JPY Daily Chart</text>
<text x="415.3" y="202" font-size="17" fill="#ff0000" stroke="#ff0000" stroke-width="0.3" textLength="89.6" lengthAdjust="spacingAndGlyphs">21-day EMA</text>
<text x="494.2" y="245.9" font-size="17" font-weight="bold" fill="#0000ff" textLength="103.1" lengthAdjust="spacingAndGlyphs">200-day SMA</text>
<text x="1261.8" y="66.2" font-size="15.8" fill="#0bb436" stroke="#0bb436" stroke-width="0.35" textLength="73.6" lengthAdjust="spacingAndGlyphs">Jan 2025 H</text>
<text x="1258.5" y="668" font-size="15.8" fill="#0bb436" stroke="#0bb436" stroke-width="0.35" textLength="77.2" lengthAdjust="spacingAndGlyphs">Sept 2024 L</text>
<g transform="translate(14,638.8) scale(1.045)"><g stroke="#fff" stroke-width="4" stroke-linejoin="round" fill="#fff"><path d="M14 22H7V11H0V4h14v18zM28 22h-8l7.5-18h8L28 22z"/><circle cx="20" cy="7.8" r="3.7"/></g><g fill="#111"><path d="M14 22H7V11H0V4h14v18zM28.2 22h-8l7.5-18h8L28.2 22z"/><circle cx="20" cy="7.8" r="3.7"/></g></g>
<rect x="1344.1" y="0" width="1" height="713" fill="#4a4a4a"/>
<rect x="0" y="678.8" width="1421" height="1" fill="#3a3a3a"/>
<text class="ax" x="1355.8" y="518.5" textLength="52.2" lengthAdjust="spacingAndGlyphs">144.000</text>
<text class="ax" x="1355.8" y="393.9" textLength="52.2" lengthAdjust="spacingAndGlyphs">148.000</text>
<text class="ax" x="1355.8" y="269.3" textLength="52.2" lengthAdjust="spacingAndGlyphs">152.000</text>
<text class="ax" x="1355.8" y="207.0" textLength="52.2" lengthAdjust="spacingAndGlyphs">154.000</text>
<text class="ax" x="1355.8" y="144.7" textLength="52.2" lengthAdjust="spacingAndGlyphs">156.000</text>
<text class="ax" x="1355.8" y="82.4" textLength="52.2" lengthAdjust="spacingAndGlyphs">158.000</text>
<text class="ax" x="1355.8" y="20.1" textLength="52.2" lengthAdjust="spacingAndGlyphs">160.000</text>
<rect x="1345" y="39.0" width="70" height="20.8" rx="2.5" ry="2.5" fill="#0bb436"/>
<rect x="1345" y="39.0" width="4" height="20.8" fill="#0bb436"/>
<text class="lb" x="1356.6" y="54.5" fill="#fff" stroke="#fff" stroke-width="0.25" textLength="52" lengthAdjust="spacingAndGlyphs">158.882</text>
<rect x="1345" y="285.0" width="70" height="20.8" rx="2.5" ry="2.5" fill="#f23645"/>
<rect x="1345" y="285.0" width="4" height="20.8" fill="#f23645"/>
<text class="lb" x="1356.6" y="300.5" fill="#fff" stroke="#fff" stroke-width="0.25" textLength="52" lengthAdjust="spacingAndGlyphs">151.000</text>
<rect x="1345" y="316.0" width="70" height="20.8" rx="2.5" ry="2.5" fill="#000"/>
<rect x="1345" y="316.0" width="4" height="20.8" fill="#000"/>
<text class="lb" x="1356.6" y="331.5" fill="#fff" stroke="#fff" stroke-width="0.25" textLength="52" lengthAdjust="spacingAndGlyphs">150.000</text>
<rect x="1345" y="347.0" width="70" height="20.8" rx="2.5" ry="2.5" fill="#f23645"/>
<rect x="1345" y="347.0" width="4" height="20.8" fill="#f23645"/>
<text class="lb" x="1356.6" y="362.5" fill="#fff" stroke="#fff" stroke-width="0.25" textLength="52" lengthAdjust="spacingAndGlyphs">149.000</text>
<rect x="1345" y="369.2" width="70" height="20.8" rx="2.5" ry="2.5" fill="#f23645"/>
<rect x="1345" y="369.2" width="4" height="20.8" fill="#f23645"/>
<text class="lb" x="1356.6" y="384.7" fill="#fff" stroke="#fff" stroke-width="0.25" textLength="52" lengthAdjust="spacingAndGlyphs">148.650</text>
<rect x="1345" y="409.8" width="70" height="20.8" rx="2.5" ry="2.5" fill="#00bcd4"/>
<rect x="1345" y="409.8" width="4" height="20.8" fill="#00bcd4"/>
<text class="lb" x="1356.6" y="425.3" fill="#000" textLength="52" lengthAdjust="spacingAndGlyphs">147.000</text>
<rect x="1345" y="441.1" width="70" height="20.8" rx="2.5" ry="2.5" fill="#2962ff"/>
<rect x="1345" y="441.1" width="4" height="20.8" fill="#2962ff"/>
<text class="lb" x="1356.6" y="456.6" fill="#fff" stroke="#fff" stroke-width="0.25" textLength="52" lengthAdjust="spacingAndGlyphs">146.000</text>
<rect x="1345" y="472.0" width="70" height="20.8" rx="2.5" ry="2.5" fill="#00bcd4"/>
<rect x="1345" y="472.0" width="4" height="20.8" fill="#00bcd4"/>
<text class="lb" x="1356.6" y="487.5" fill="#000" textLength="52" lengthAdjust="spacingAndGlyphs">145.000</text>
<rect x="1345" y="541.1" width="70" height="20.8" rx="2.5" ry="2.5" fill="#2962ff"/>
<rect x="1345" y="541.1" width="4" height="20.8" fill="#2962ff"/>
<text class="lb" x="1356.6" y="556.6" fill="#fff" stroke="#fff" stroke-width="0.25" textLength="52" lengthAdjust="spacingAndGlyphs">142.800</text>
<rect x="1345" y="566.2" width="70" height="20.8" rx="2.5" ry="2.5" fill="#2962ff"/>
<rect x="1345" y="566.2" width="4" height="20.8" fill="#2962ff"/>
<text class="lb" x="1356.6" y="581.7" fill="#fff" stroke="#fff" stroke-width="0.25" textLength="52" lengthAdjust="spacingAndGlyphs">142.000</text>
<rect x="1345" y="628.9" width="70" height="20.8" rx="2.5" ry="2.5" fill="#0bb436"/>
<rect x="1345" y="628.9" width="4" height="20.8" fill="#0bb436"/>
<text class="lb" x="1356.6" y="644.4" fill="#fff" stroke="#fff" stroke-width="0.25" textLength="52" lengthAdjust="spacingAndGlyphs">140.000</text>
<rect x="1345" y="649.5" width="70" height="20.8" rx="2.5" ry="2.5" fill="#0bb436"/>
<rect x="1345" y="649.5" width="4" height="20.8" fill="#0bb436"/>
<text class="lb" x="1356.6" y="665.0" fill="#fff" stroke="#fff" stroke-width="0.25" textLength="52" lengthAdjust="spacingAndGlyphs">139.581</text>
<text class="ax" x="61.7" y="702.2" text-anchor="middle">Dec</text>
<text class="ax" x="178.5" y="702.2" text-anchor="middle" font-weight="bold">2025</text>
<text class="ax" x="300.7" y="702.2" text-anchor="middle">Feb</text>
<text class="ax" x="411.8" y="702.2" text-anchor="middle">Mar</text>
<text class="ax" x="528.6" y="702.2" text-anchor="middle">Apr</text>
<text class="ax" x="651" y="702.2" text-anchor="middle">May</text>
<text class="ax" x="773.5" y="702.2" text-anchor="middle">Jun</text>
<text class="ax" x="890.5" y="702.2" text-anchor="middle">Jul</text>
<text class="ax" x="1018.6" y="702.2" text-anchor="middle">Aug</text>
<text class="ax" x="1135.2" y="702.2" text-anchor="middle">Sep</text>
<text class="ax" x="1257.2" y="702.2" text-anchor="middle">Oct</text>
<polygon points="1392.0,697.0 1387.7,704.3 1379.1,704.3 1374.8,697.0 1379.1,689.7 1387.7,689.7" fill="none" stroke="#222" stroke-width="1.2" stroke-linejoin="round"/>
<circle cx="1383.4" cy="697" r="2.2" fill="none" stroke="#222" stroke-width="1.2"/>
<rect x="0.2" y="0.1" width="1420.8" height="712.7" rx="4.5" ry="4.5" fill="none" stroke="#1f1f1f" stroke-width="1.6"/>
</svg></body></html>
